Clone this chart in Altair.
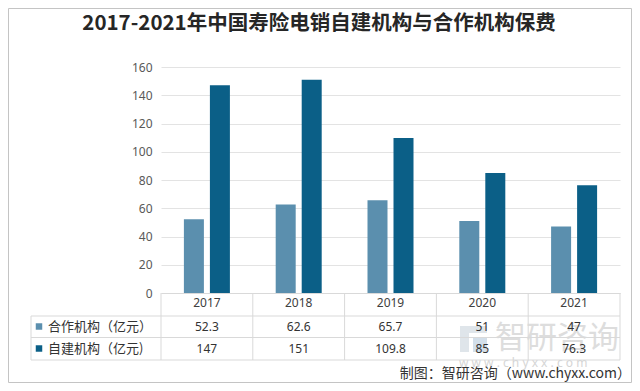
import altair as alt
import pandas as pd

years = ["2017", "2018", "2019", "2020", "2021"]
series_names = ["合作机构（亿元）", "自建机构（亿元)"]
coop_values = [52.3, 62.6, 65.7, 51, 47]
self_values = [147, 151, 109.8, 85, 76.3]
colors = ["#5b8fae", "#0b5f87"]
y_ticks = [0, 20, 40, 60, 80, 100, 120, 140, 160]
title_text = "2017-2021年中国寿险电销自建机构与合作机构保费"
source_text = "制图：智研咨询（www.chyxx.com）"

rows = []
for s, vals in zip(series_names, [coop_values, self_values]):
    for yr, v in zip(years, vals):
        rows.append({"year": yr, "series": s, "value": v, "label": f"{v:g}"})
df = pd.DataFrame(rows)
year_df = pd.DataFrame({"year": years})
one_df = pd.DataFrame({"k": [0]})

W, H = 459, 226
NUM_FONT = "Noto Sans"
CJK_FONT = "Noto Sans CJK SC"
GRID = "#d9d9d9"

x_scale = alt.Scale(domain=years, paddingInner=0, paddingOuter=0)
x_axis = alt.Axis(title=None, labelAngle=0, ticks=False, grid=False,
                  domain=True, domainColor=GRID, labelPadding=4,
                  labelFont=NUM_FONT, labelFontSize=12, labelColor="#404040")
color_scale = alt.Scale(domain=series_names, range=colors)

bars = alt.Chart(df).mark_bar(width=20).encode(
    x=alt.X("year:N", scale=x_scale, sort=years, axis=x_axis),
    xOffset=alt.XOffset("series:N", sort=series_names,
                        scale=alt.Scale(domain=series_names, paddingInner=0.23, paddingOuter=0.88)),
    y=alt.Y("value:Q", scale=alt.Scale(domain=[0, 160], nice=False),
            axis=alt.Axis(title=None, values=y_ticks, ticks=False, domain=False,
                          grid=True, gridColor="#e3e3e3", labelPadding=9,
                          labelFont=NUM_FONT, labelFontSize=12, labelColor="#595959")),
    color=alt.Color("series:N", scale=color_scale, legend=None),
)

layers = []

# watermark (behind the table values)
logo1 = alt.Chart(one_df).mark_rect(color="#c9d3dc", opacity=0.6).encode(
    x=alt.value(299), x2=alt.value(326), y=alt.value(259), y2=alt.value(266))
logo2 = alt.Chart(one_df).mark_rect(color="#c9d3dc", opacity=0.6).encode(
    x=alt.value(299), x2=alt.value(308), y=alt.value(266), y2=alt.value(285))
logo3 = alt.Chart(one_df).mark_rect(color="#b5c9dc", opacity=0.6).encode(
    x=alt.value(312), x2=alt.value(326), y=alt.value(270), y2=alt.value(285))
watermark = alt.Chart(one_df).mark_text(
    font=CJK_FONT, fontSize=31, color="#bdbdbd", opacity=0.5, align="left", baseline="middle"
).encode(x=alt.value(334), y=alt.value(272), text=alt.value("智研咨询"))
watermark2 = alt.Chart(one_df).mark_text(
    font=NUM_FONT, fontSize=12, color="#c4c4c4", opacity=0.7, align="left", baseline="middle"
).encode(x=alt.value(298), y=alt.value(296), text=alt.value("w w w . c h y x x . c o m"))
layers += [logo1, logo2, logo3, watermark, watermark2]

# table grid lines
vlines = alt.Chart(year_df).mark_rule(color=GRID, strokeWidth=1).encode(
    x=alt.X("year:N", scale=x_scale, sort=years, bandPosition=0, axis=x_axis),
    y=alt.value(H), y2=alt.value(293))
vline_end = alt.Chart(one_df).mark_rule(color=GRID, strokeWidth=1).encode(
    x=alt.value(W), y=alt.value(H), y2=alt.value(293))
vline_left = alt.Chart(one_df).mark_rule(color=GRID, strokeWidth=1).encode(
    x=alt.value(-130), y=alt.value(249), y2=alt.value(293))
layers += [vlines, vline_end, vline_left]
for yy in [249, 270.5, 293]:
    layers.append(alt.Chart(one_df).mark_rule(color=GRID, strokeWidth=1).encode(
        x=alt.value(-130), x2=alt.value(W), y=alt.value(yy)))

# table rows: legend square, series label, values
row_y = [259.5, 281.5]
for s, ry in zip(series_names, row_y):
    sub = df[df["series"] == s]
    layers.append(alt.Chart(sub).mark_text(
        font=NUM_FONT, fontSize=12, color="#333333", baseline="middle").encode(
        x=alt.X("year:N", scale=x_scale, sort=years, axis=x_axis),
        y=alt.value(ry), text="label:N"))
    first = sub.head(1)
    layers.append(alt.Chart(first).mark_square(size=42, opacity=1).encode(
        x=alt.value(-122), y=alt.value(ry),
        color=alt.Color("series:N", scale=color_scale, legend=None)))
    layers.append(alt.Chart(first).mark_text(
        font=CJK_FONT, fontSize=13, color="#333333", align="left", baseline="middle").encode(
        x=alt.value(-113), y=alt.value(ry), text="series:N"))

# title and source
title = alt.Chart(one_df).mark_text(
    font=CJK_FONT, fontSize=20.5, fontWeight="bold", color="#262626",
    align="center", baseline="middle").encode(
    x=alt.value(158), y=alt.value(-43), text=alt.value(title_text))
source = alt.Chart(one_df).mark_text(
    font=CJK_FONT, fontSize=14, color="#333333", align="right", baseline="middle").encode(
    x=alt.value(470), y=alt.value(307), text=alt.value(source_text))
layers += [title, source]

# outer frame (left, top, right, bottom edges of the chart)
FL, FR, FT, FB = -152.5, 470.5, -58.5, 315.5
for (xa, xb, ya, yb) in [(FL, FL, FT, FB), (FR, FR, FT, FB), (FL, FR, FT, FT), (FL, FR, FB, FB)]:
    if xa == xb:
        enc = dict(x=alt.value(xa), y=alt.value(ya), y2=alt.value(yb))
    else:
        enc = dict(x=alt.value(xa), x2=alt.value(xb), y=alt.value(ya))
    layers.append(alt.Chart(one_df).mark_rule(color="#c4c4c4", strokeWidth=1).encode(**enc))

chart = alt.layer(bars, *layers).properties(
    width=W, height=H,
    padding={"left": 153, "top": 59, "right": 12, "bottom": 90},
    autosize=alt.AutoSizeParams(type="none"),
    background="white",
).configure_view(stroke=None)

chart.save("out.html", embed_options={"renderer": "svg", "actions": False})
